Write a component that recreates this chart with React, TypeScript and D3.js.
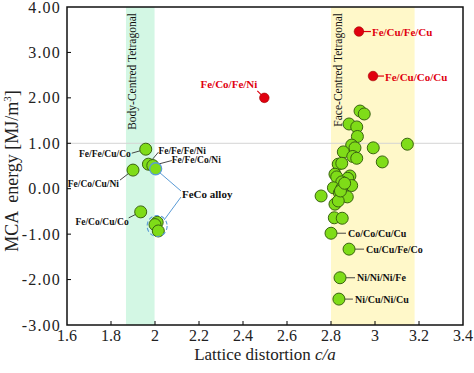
import React from "react";
import * as d3 from "d3";

const W = 474, H = 373;
const M = { left: 67, right: 463, top: 7, bottom: 325 };

const xTicks = [1.6, 1.8, 2.0, 2.2, 2.4, 2.6, 2.8, 3.0, 3.2, 3.4];
const xTickLabels = ["1.6", "1.8", "2", "2.2", "2.4", "2.6", "2.8", "3", "3.2", "3.4"];
const yTicks = [-3, -2, -1, 0, 1, 2, 3, 4];
const yTickLabels = ["-3.00", "-2.00", "-1.00", "0.00", "1.00", "2.00", "3.00", "4.00"];

// bands [from, to]
const bctBand = [1.868, 1.998];
const fctBand = [2.8, 3.18];

// unlabeled FCT cluster
const clusterX = [2.932, 2.951, 2.882, 2.917, 2.92, 2.894, 2.909, 2.992, 3.147, 2.856, 2.899, 2.917, 3.033, 2.833, 2.849, 2.818, 2.826, 2.886, 2.876, 2.849, 2.811, 2.894, 2.849, 2.838, 2.874, 2.755, 2.818, 2.833, 2.815, 2.851, 2.843, 2.862];
const clusterY = [1.71, 1.645, 1.425, 1.36, 1.15, 0.96, 0.90, 0.90, 0.98, 0.81, 0.71, 0.67, 0.59, 0.54, 0.56, 0.32, 0.26, 0.28, 0.23, 0.15, 0.02, 0.07, 0.01, -0.09, -0.18, -0.16, -0.34, -0.27, -0.64, -0.65, -0.05, 0.12];

// labeled green points
const labNames = ["Fe/Fe/Cu/Co", "Fe/Co/Cu/Ni", "Fe/Co/Cu/Co", "Fe/Fe/Fe/Ni", "Fe/Fe/Co/Ni", "Co/Co/Cu/Cu", "Cu/Cu/Fe/Co", "Ni/Ni/Ni/Fe", "Ni/Cu/Ni/Cu"];
const labX = [1.958, 1.90, 1.935, 1.97, 1.99, 2.80, 2.882, 2.841, 2.836];
const labY = [0.87, 0.41, -0.51, 0.54, 0.51, -0.98, -1.33, -1.96, -2.43];
const labSize = [9.5, 9.5, 9.5, 9.5, 9.5, 10, 10, 10, 10];
// label text anchor offsets (px) relative to point: [dx, dy, anchor, leader end dx, dy]
const labOff: [number, number, string, number, number][] = [
  [-15, 4, "end", -14, 4],
  [-14, 13, "end", -13, 10],
  [-12, 10, "end", -12, 6],
  [10, -14, "start", 10, -12],
  [19, -6, "start", 19, -5],
  [17, 0, "start", 15, 0],
  [17, 0, "start", 15, 0],
  [17, 0, "start", 15, 0],
  [16, 0, "start", 14, 0],
];

// FeCo alloy
const fecoX = [2.003, 2.01, 2.0, 2.015];
const fecoY = [0.44, -0.74, -0.79, -0.93];

// red points
const redNames = ["Fe/Co/Fe/Ni", "Fe/Cu/Fe/Cu", "Fe/Cu/Co/Cu"];
const redX = [2.497, 2.927, 2.991];
const redY = [2.0, 3.46, 2.48];
const redOff: [number, number, string][] = [[-7, -13, "end"], [13, 1, "start"], [12, 1, "start"]];

const GREEN = "#7fdc18";
const GSTROKE = "#3a6410";
const RED = "#e0000f";
const BLUE = "#5a9bd6";
const FONT = "'Liberation Serif', 'Times New Roman', serif";

export default function App() {
  const x = d3.scaleLinear().domain([1.6, 3.4]).range([M.left, M.right]);
  const y = d3.scaleLinear().domain([-3, 4]).range([M.bottom, M.top]);
  const ph = M.bottom - M.top;

  const fecoCx = x(d3.mean(fecoX.slice(1))!) + 0.3;
  const fecoCy = y(d3.mean(fecoY.slice(1))!);

  return (
    <svg width={W} height={H} style={{ position: "absolute", left: 0, top: 0, background: "#fff" }} fontFamily={FONT}>
      {/* bands */}
      <rect x={x(bctBand[0])} y={M.top} width={x(bctBand[1]) - x(bctBand[0])} height={ph} fill="#d3f7e4" />
      <rect x={x(fctBand[0])} y={M.top} width={x(fctBand[1]) - x(fctBand[0])} height={ph} fill="#fff8c9" />
      {/* gridline at 1 */}
      <line x1={M.left} x2={M.right} y1={y(1)} y2={y(1)} stroke="#d4d4d4" strokeWidth={1} />

      {/* band labels */}
      <text transform={`translate(${(x(bctBand[0]) + x(bctBand[1])) / 2 - 4},13) rotate(-90)`} textAnchor="end" fontSize={11.5} fill="#111">Body-Centred Tetragonal</text>
      <text transform={`translate(${x(fctBand[0]) + 11},13) rotate(-90)`} textAnchor="end" fontSize={11.5} fill="#111">Face-Centred Tetragonal</text>

      {/* ticks */}
      {xTicks.map((t, i) => (
        <g key={"xt" + i}>
          {i > 0 && i < xTicks.length - 1 && <line x1={x(t)} x2={x(t)} y1={M.bottom} y2={M.bottom - 4} stroke="#000" strokeWidth={1} />}
          <text x={x(t)} y={341} textAnchor="middle" fontSize={16} fill="#222">{xTickLabels[i]}</text>
        </g>
      ))}
      {yTicks.map((t, i) => (
        <g key={"yt" + i}>
          {i > 0 && i < yTicks.length - 1 && <line x1={M.left} x2={M.left + 4} y1={y(t)} y2={y(t)} stroke="#000" strokeWidth={1} />}
          <text x={61} y={y(t) + 5.5} textAnchor="end" fontSize={16} letterSpacing={1.2} fill="#222">{yTickLabels[i]}</text>
        </g>
      ))}

      {/* axis titles */}
      <text x={(M.left + M.right) / 2} y={360} textAnchor="middle" fontSize={17} fill="#222">
        Lattice distortion <tspan fontStyle="italic">c/a</tspan>
      </text>
      <text transform={`translate(18,${(M.top + M.bottom) / 2 + 5}) rotate(-90)`} textAnchor="middle" fontSize={18} fill="#222" xmlSpace="preserve">
        MCA  energy [MJ/m<tspan fontSize={11} dy={-7}>3</tspan><tspan dy={7}>]</tspan>
      </text>

      {/* cluster */}
      {clusterX.map((v, i) => (
        <circle key={"c" + i} cx={x(v)} cy={y(clusterY[i])} r={6} fill={GREEN} stroke={GSTROKE} strokeWidth={1} />
      ))}

      {/* labeled green */}
      {labX.map((v, i) => {
        const cx = x(v), cy = y(labY[i]);
        const [dx, dy, anchor, lx, ly] = labOff[i];
        return (
          <g key={"l" + i}>
            <line x1={cx} y1={cy} x2={cx + lx} y2={cy + ly} stroke="#333" strokeWidth={0.9} />
            <circle cx={cx} cy={cy} r={6} fill={GREEN} stroke={GSTROKE} strokeWidth={1} />
            <text x={cx + dx} y={cy + dy + 3.5} textAnchor={anchor as any} fontSize={labSize[i]} fontWeight="bold" fill="#111">{labNames[i]}</text>
          </g>
        );
      })}

      {/* FeCo alloy */}
      <line x1={181} y1={191} x2={x(fecoX[0]) + 3} y2={y(fecoY[0]) + 3} stroke={BLUE} strokeWidth={1} />
      <line x1={181} y1={197} x2={fecoCx + 7} y2={fecoCy - 6} stroke={BLUE} strokeWidth={1} />
      {fecoX.map((v, i) => (
        <circle key={"f" + i} cx={x(v)} cy={y(fecoY[i])} r={6} fill={GREEN} stroke={i === 0 ? BLUE : GSTROKE} strokeWidth={i === 0 ? 1.3 : 1} />
      ))}
      <ellipse cx={fecoCx} cy={fecoCy} rx={10} ry={10.5} fill="none" stroke={BLUE} strokeWidth={1.1} strokeDasharray="4,2.5" />
      <text x={182} y={197.5} fontSize={11} fontWeight="bold" fill="#111">FeCo alloy</text>

      {/* red */}
      {redX.map((v, i) => {
        const cx = x(v), cy = y(redY[i]);
        const [dx, dy, anchor] = redOff[i];
        return (
          <g key={"r" + i}>
            <line x1={cx} y1={cy} x2={cx + dx + (anchor === "end" ? 0 : -1)} y2={cy + (i === 0 ? dy + 6 : 0)} stroke={RED} strokeWidth={1.2} />
            <circle cx={cx} cy={cy} r={4.8} fill={RED} stroke="#a00000" strokeWidth={0.6} />
            <text x={cx + dx} y={cy + dy + 3.5} textAnchor={anchor as any} fontSize={11} fontWeight="bold" fill={RED}>{redNames[i]}</text>
          </g>
        );
      })}

      {/* frame */}
      <rect x={M.left} y={M.top} width={M.right - M.left} height={ph} fill="none" stroke="#111" strokeWidth={1.5} />
    </svg>
  );
}
